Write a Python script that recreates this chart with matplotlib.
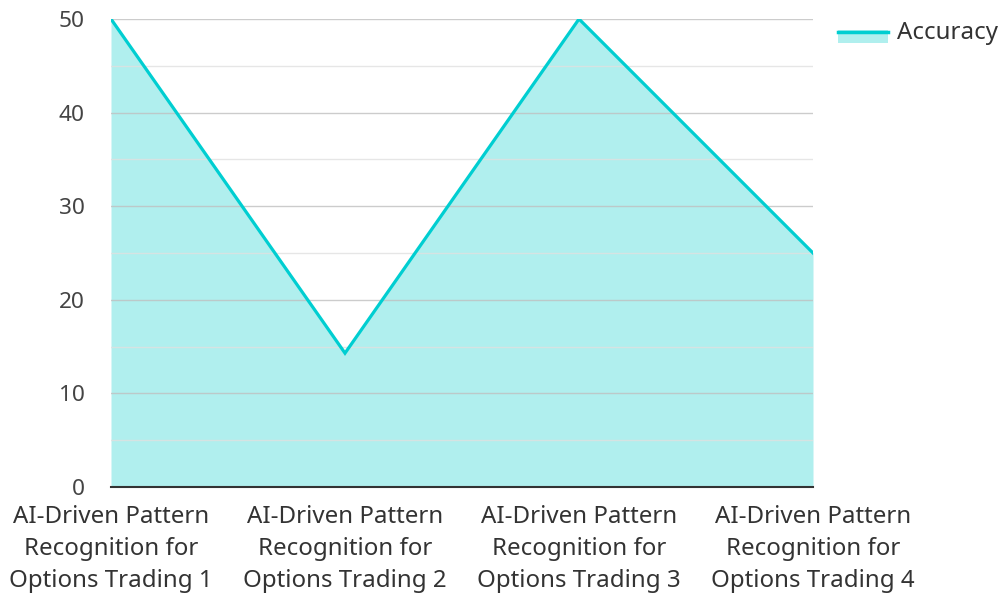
import matplotlib
matplotlib.use("Agg")
import matplotlib.pyplot as plt
from matplotlib.lines import Line2D
from matplotlib.patches import Rectangle

categories = ["AI-Driven Pattern\nRecognition for\nOptions Trading 1",
              "AI-Driven Pattern\nRecognition for\nOptions Trading 2",
              "AI-Driven Pattern\nRecognition for\nOptions Trading 3",
              "AI-Driven Pattern\nRecognition for\nOptions Trading 4"]
accuracy = [50, 14.3, 50, 25]
yticks = [0, 10, 20, 30, 40, 50]

plt.rcParams['font.family'] = ['Noto Sans', 'DejaVu Sans']
W, H = 1003, 593
fig = plt.figure(figsize=(W / 100, H / 100), dpi=100)
ax = fig.add_axes([111 / W, 1 - 487 / H, (813 - 111) / W, (487 - 19) / H])

x = list(range(len(categories)))
line_color = "#00CED1"
fill_color = "#B0EFEE"
ax.fill_between(x, 0, accuracy, color=fill_color, zorder=2, linewidth=0)
ax.plot(x, accuracy, color=line_color, linewidth=2.3, zorder=4, solid_joinstyle='miter')

ax.set_xlim(0, len(categories) - 1)
ax.set_ylim(0, 50)
ax.set_yticks(yticks)
ax.set_yticks([5, 15, 25, 35, 45], minor=True)
ax.grid(axis='y', which='major', color='#c0c0c0', linewidth=1, zorder=3, alpha=0.8)
ax.grid(axis='y', which='minor', color='#e0e0e0', linewidth=1, zorder=3, alpha=0.8)
ax.grid(axis='x', visible=False)
ax.set_axisbelow(False)

ax.set_xticks(x)
ax.set_xticklabels(categories, fontsize=17.3, color='#333333', linespacing=1.43)
ax.tick_params(axis='y', which='both', length=0, labelsize=16.3, labelcolor='#444444', pad=19)
ax.tick_params(axis='x', length=0, pad=13)
for s in ['top', 'right', 'left']:
    ax.spines[s].set_visible(False)
ax.spines['bottom'].set_color('#333333')
ax.spines['bottom'].set_linewidth(1.5)
ax.spines['bottom'].set_zorder(5)

# legend (manual, in figure pixel coordinates)
fig.add_artist(Rectangle((838 / W, 1 - 43 / H), 50 / W, 13 / H, facecolor=fill_color,
                         edgecolor='none', transform=fig.transFigure))
fig.add_artist(Line2D([838 / W, 888 / W], [1 - 31.5 / H, 1 - 31.5 / H], color=line_color,
                      linewidth=2.5, transform=fig.transFigure))
fig.text(897 / W, 1 - 33 / H, "Accuracy", fontsize=17.3, color='#333333', va='center', ha='left')

fig.savefig("out.png", dpi=100)
